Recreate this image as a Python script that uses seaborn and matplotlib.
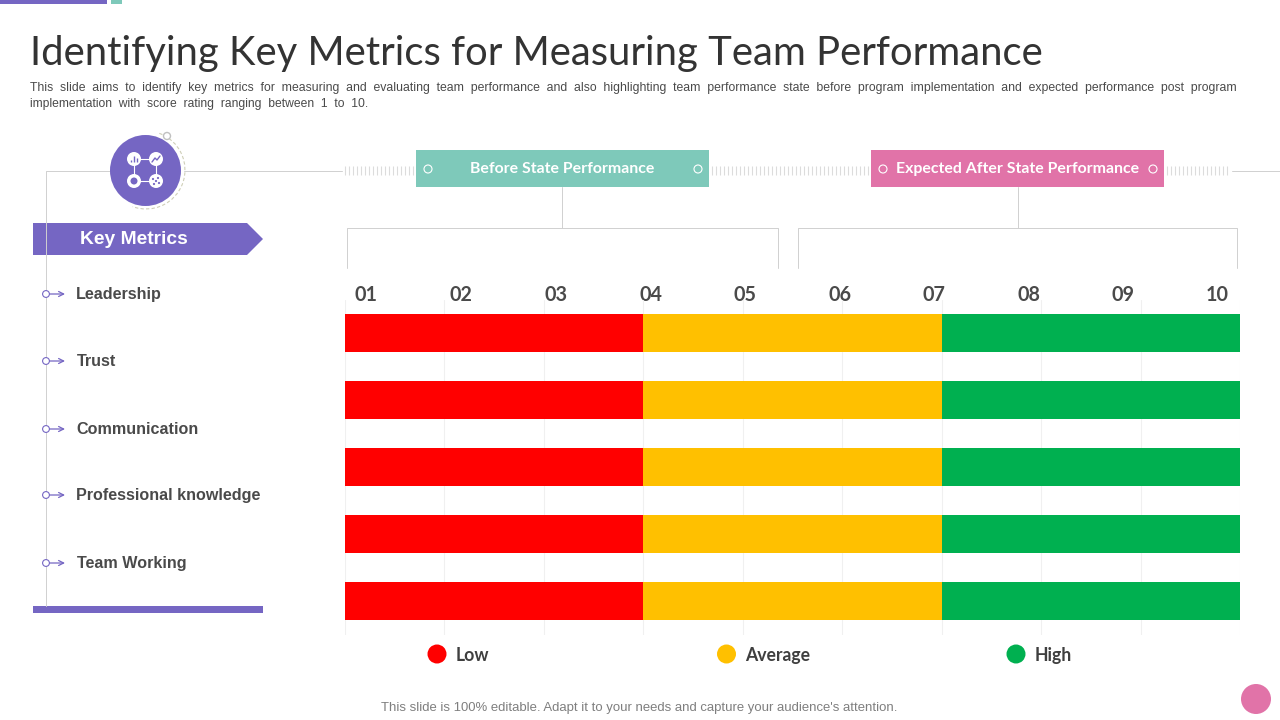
import numpy as np
import pandas as pd
import matplotlib
matplotlib.use("Agg")
import matplotlib.pyplot as plt
from matplotlib.patches import Circle, Polygon, Rectangle, Arc
import seaborn as sns

metrics = ["Leadership", "Trust", "Communication", "Professional knowledge", "Team Working"]
low_end = [4, 4, 4, 4, 4]
average_end = [7, 7, 7, 7, 7]
high_end = [10, 10, 10, 10, 10]
scores = ["01", "02", "03", "04", "05", "06", "07", "08", "09", "10"]
levels = ["Low", "Average", "High"]

title = "Identifying Key Metrics for Measuring Team Performance"
sub_1 = ("This slide aims to identify key metrics for measuring and evaluating team performance and also "
         "highlighting team performance state before program implementation and expected performance post program")
sub_2 = "implementation with score rating ranging between 1 to 10."
footer = "This slide is 100% editable. Adapt it to your needs and capture your audience's attention."

RED = "#ff0000"
AMBER = "#ffc000"
GREEN = "#00b050"
PURPLE = "#7566c3"
TEAL = "#7ec9ba"
PINK = "#e173a8"
LINE = "#d0d0d0"
DARK = "#4a4a4a"
HEAD = "Lato"
ARIAL = "Liberation Sans"

sns.set_theme(style="white")
fig = plt.figure(figsize=(12.8, 7.2), dpi=100, facecolor="white")

# fondo en coordenadas de pixel
bg = fig.add_axes([0, 0, 1, 1])
bg.set_xlim(0, 1280)
bg.set_ylim(720, 0)
bg.axis("off")

# chart
ax = fig.add_axes([345 / 1280, 1 - 634.5 / 720, 895 / 1280, 335 / 720])
ax.patch.set_alpha(0)
df = pd.DataFrame({"metric": metrics, "low": low_end, "average": average_end, "high": high_end})
for col, colr in [("high", GREEN), ("average", AMBER), ("low", RED)]:
    sns.barplot(data=df, y="metric", x=col, color=colr, saturation=1, width=0.56, orient="h", ax=ax, zorder=3, linewidth=0)
ax.set_xlim(1, 10)
ax.set_xticks(range(1, 11))
ax.set_xticklabels([])
ax.set_yticklabels([])
ax.set_xlabel("")
ax.set_ylabel("")
ax.tick_params(length=0)
ax.grid(axis="x", color="#f0f0f0", lw=0.8)
ax.set_axisbelow(True)
sns.despine(ax=ax, left=True, bottom=True)

# banda superior
bg.add_patch(Rectangle((0, 0), 107, 4, color=PURPLE, lw=0))
bg.add_patch(Rectangle((111, 0), 11, 4, color=TEAL, lw=0))

bg.text(30, 53, title, fontsize=28.8, family=HEAD, weight="normal", color="#333333", va="center", ha="left")
bg.text(30, 87.5, sub_1.replace(" ", "  "), fontsize=8.79, family=ARIAL, color=DARK, va="center", ha="left")
bg.text(30, 103.5, sub_2.replace(" ", "  "), fontsize=8.75, family=ARIAL, color=DARK, va="center", ha="left")

# lineas de conexion
bg.plot([46, 46, 110], [606, 171, 171], color=LINE, lw=0.7)
bg.plot([184, 342], [171, 171], color=LINE, lw=0.7)
bg.plot([1232, 1280], [171, 171], color=LINE, lw=0.7)
for a, b in [(345, 415), (712, 870), (1167, 1230)]:
    bg.vlines(np.arange(a, b, 4), 166, 175, color="#dcdcdc", lw=0.8)

# icono
bg.add_patch(Arc((146, 170), 78, 78, theta1=-70, theta2=110, color="#cfcfb8", lw=0.8, ls=(0, (3, 2))))
bg.add_patch(Circle((145.5, 170.5), 35.5, color=PURPLE, lw=0, zorder=2.5))
bg.add_patch(Circle((167, 136), 3.5, fc="white", ec="#c0c0c0", lw=1))
nodes = [(134, 159), (156, 159), (134, 181), (156, 181)]
bg.plot([134, 156, 156, 134, 134], [159, 159, 181, 181, 159], color="white", lw=0.8, zorder=3)
for nx, ny in nodes:
    bg.add_patch(Circle((nx, ny), 7, color="white", lw=0, zorder=3))
bg.vlines([131, 134, 137], [160, 156, 158], [162, 162, 162], color=PURPLE, lw=1, zorder=4)
bg.plot([152, 155, 157, 160], [162, 158, 160, 156], color=PURPLE, lw=1, zorder=4)
bg.add_patch(Circle((134, 181), 3.5, color=PURPLE, lw=0, zorder=4))
for dx, dy in [(-3, -2), (2, -3), (-2, 3), (3, 2), (0, 0)]:
    bg.add_patch(Circle((156 + dx, 181 + dy), 1.1, color=PURPLE, lw=0, zorder=4))

# cinta Key Metrics
bg.add_patch(Polygon([(33, 223), (247, 223), (263, 239), (247, 255), (33, 255)], color=PURPLE, lw=0))
bg.text(134, 239, "Key Metrics", fontsize=13.9, family=ARIAL, weight="bold", color="white", va="center", ha="center")
bg.add_patch(Rectangle((33, 606), 230, 7, color=PURPLE, lw=0))

# cajas de cabecera
for x0, colr, label in [(416, TEAL, "Before State Performance"), (871, PINK, "Expected After State Performance")]:
    bg.add_patch(Rectangle((x0, 150), 293, 37, color=colr, lw=0))
    bg.text(x0 + 146.5, 169, label, fontsize=11.4, family=HEAD, weight="bold", color="white", va="center", ha="center")
    for cx in (x0 + 12, x0 + 282):
        bg.add_patch(Circle((cx, 169), 4, fc="none", ec="white", lw=0.8))

# corchetes
for x0, x1, xm in [(347, 778, 562), (798, 1237, 1018)]:
    bg.plot([x0, x0, x1, x1], [268, 228, 228, 268], color=LINE, lw=0.7)
    bg.plot([xm, xm], [187, 228], color=LINE, lw=0.7)

# etiquetas de puntaje
score_x = [366, 461, 556, 651, 745, 840, 934, 1029, 1123, 1217]
for sx, s in zip(score_x, scores):
    bg.text(sx, 295, s, fontsize=14.2, family=HEAD, weight="bold", color=DARK, va="center", ha="center")

# metricas
metric_x = [76, 77, 76, 76, 77]
metric_y = [294, 361, 429, 495, 563]
for mx, my, m in zip(metric_x, metric_y, metrics):
    bg.text(mx, my + 0.5, m, fontsize=11.65, family=ARIAL, weight="bold", color=DARK, va="center", ha="left")
    bg.annotate("", xy=(65, my), xytext=(49, my), arrowprops=dict(arrowstyle="->", color=PURPLE, lw=0.9, mutation_scale=9, shrinkA=0, shrinkB=0))
    bg.add_patch(Circle((46, my), 3.4, fc="white", ec=PURPLE, lw=0.8, zorder=3))

# leyenda
for lx, colr, lev in zip([437, 726.5, 1016], [RED, AMBER, GREEN], levels):
    bg.add_patch(Circle((lx, 654), 9.5, color=colr, lw=0))
    bg.text(lx + 19, 661, lev, fontsize=12.7, family=HEAD, weight="bold", color="#3f3f3f", va="baseline", ha="left")

bg.text(639.5, 708.5, footer, fontsize=9.45, family=ARIAL, color="#7f7f7f", va="center", ha="center")
bg.add_patch(Circle((1256, 699), 15, color=PINK, lw=0))

fig.savefig("out.png", dpi=100)
